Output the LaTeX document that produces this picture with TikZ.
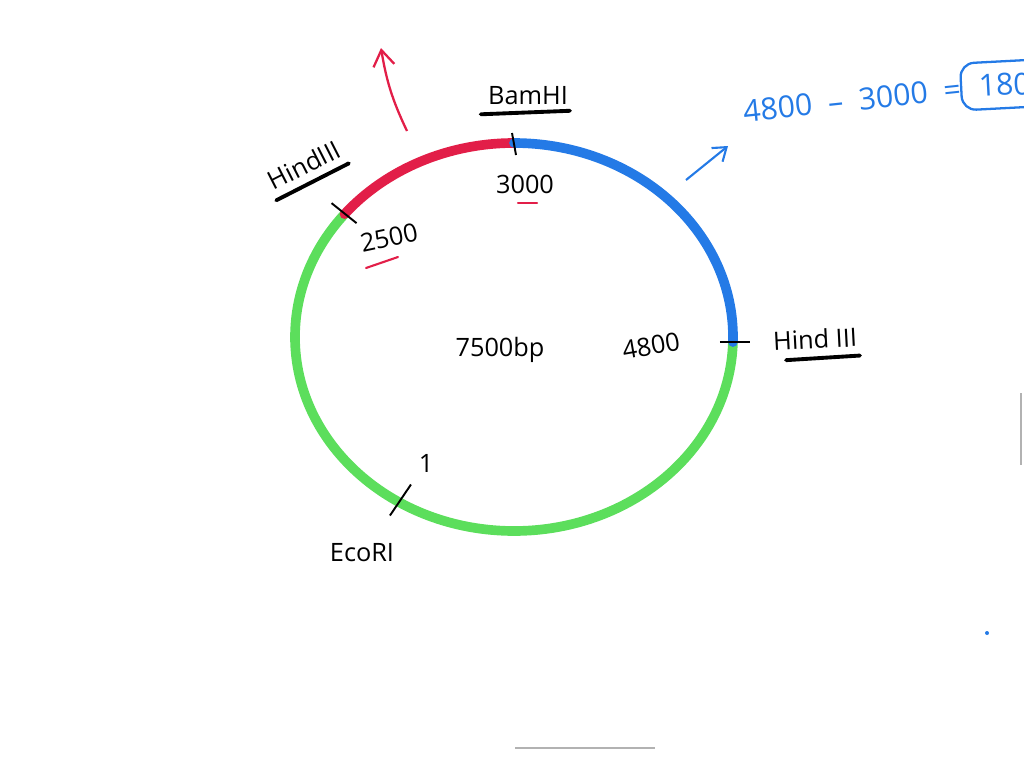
\documentclass[tikz,border=0pt]{standalone}
\usepackage{fontspec}
\setmainfont{Open Sans}
\usetikzlibrary{arrows.meta}

\definecolor{inkred}{RGB}{226,30,72}
\definecolor{inkblue}{RGB}{36,122,230}
\definecolor{inkgreen}{RGB}{92,222,92}

\tikzset{
    seg/.style={line width=5.5pt, line cap=round},
    tickmark/.style={line width=1.1pt},
    uline/.style={line width=2.2pt, line cap=round},
    redline/.style={inkred, line width=1.2pt, line cap=round},
    lbl/.style={font=\Large, inner xsep=1pt, inner ysep=1pt},
    ulbl/.style={font=\Large, inner xsep=1pt, inner ysep=5pt},
}

\begin{document}
\begin{tikzpicture}[x=0.02cm, y=-0.02cm]

    \useasboundingbox (0,0) rectangle (1024,768);
    \clip (0,0) rectangle (1024,768);

    % Plasmid
    \coordinate (c) at (514,337);
    \draw[line width=1.1pt] (516,339) ellipse[x radius=219, y radius=194];
    \path (c) ++(-140.7:219 and 194) coordinate (hindL);
    \path (c) ++(-90:219 and 194) coordinate (bam);
    \path (c) ++(1.5:219 and 194) coordinate (hindR);
    \path (c) ++(122:219 and 194) coordinate (eco);

    % Fragments
    \draw[seg, inkgreen] (hindR) arc[start angle=1.5, end angle=219.3, x radius=219, y radius=194];
    \draw[seg, inkred] (hindL) arc[start angle=-140.7, end angle=-90, x radius=219, y radius=194];
    \draw[seg, inkblue] (bam) arc[start angle=-90, end angle=1.5, x radius=219, y radius=194];

    % Cut sites
    \draw[tickmark] (bam) ++(-2,-10) -- ++(4,22);
    \draw[tickmark] (hindL) ++(-13,-11) -- ++(25,20);
    \draw[tickmark] (hindR) ++(-13,0) -- ++(30,0);
    \draw[tickmark] (eco) ++(-8,14) -- ++(21,-31);

    % Labels
    \node[ulbl] (bamlbl) at (528,96) {BamHI};
    \draw[uline] ([xshift=-3]bamlbl.south west) -- ([yshift=2]bamlbl.south east);
    \node[ulbl, rotate=27] (hindLlbl) at (304,165) {HindIII};
    \draw[uline] (hindLlbl.south west) -- (hindLlbl.south east);
    \node[ulbl, rotate=3] (hindRlbl) at (815,339) {Hind III};
    \draw[uline] ([xshift=8]hindRlbl.south west) -- (hindRlbl.south east);
    \node[lbl] (ecolbl) at (362,553) {EcoRI};
    \node[lbl] (one) at (426,463) {1};

    \node[lbl] (n3000) at (525,184) {3000};
    \draw[redline] (518,203) -- (537,203);
    \node[lbl, rotate=12] (n2500) at (389,238) {2500};
    \draw[redline] (366,268) -- (398,257);
    \node[lbl, rotate=10] (n4800) at (651,346) {4800};
    \node[lbl] (size) at (500,350) {7500bp};

    % Arrows
    \coordinate (rtail) at (407,131);
    \coordinate (rhead) at (381,48);
    \draw[inkred, line width=1.3pt, -{Straight Barb[length=9pt, width=12pt]}] (rtail) to[bend left=8] (rhead);
    \coordinate (btail) at (686,180);
    \coordinate (bhead) at (728,146);
    \draw[inkblue, line width=1.2pt, -{Straight Barb[length=7pt, width=10pt]}] (btail) -- (bhead);

    % Difference
    \node[inkblue, font=\LARGE, rotate=6] (calc) at (852,100) {4800 \ – \ 3000 \ =};
    \node[inkblue, font=\LARGE, draw, line width=1.3pt, rounded corners=8pt, rotate=3,
          inner xsep=10pt, inner ysep=7pt, anchor=west] (answer) at (960,87) {1800};

    % Screen
    \draw[gray!60, line width=1.5pt] (1021,393) -- (1021,465);
    \fill[inkblue] (987,633) circle[radius=2];
    \draw[gray!60, line width=1.2pt] (515,748) -- (655,748);

\end{tikzpicture}
\end{document}
